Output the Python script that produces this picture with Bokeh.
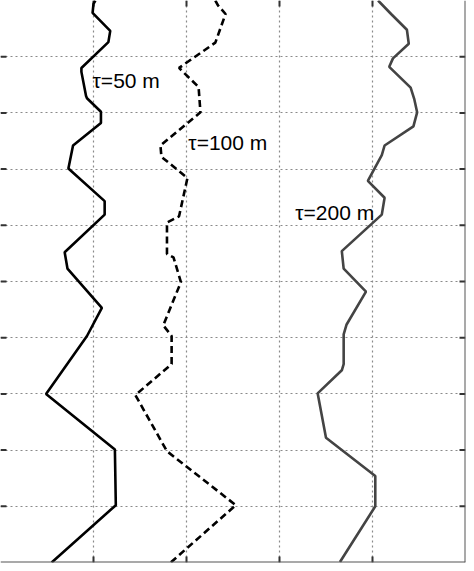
import math
from bokeh.plotting import figure
from bokeh.models import Range1d, FixedTicker, Span
from bokeh.core.properties import value
from bokeh.embed import file_html
from bokeh.resources import INLINE

# --- data (arbitrary x units, depth units increasing downward) ---
x_ticks = [1, 2, 3, 4]
depth_ticks = [1, 2, 3, 4, 5, 6, 7, 8, 9]

tau50_x = [1.02, 1.00, 0.99, 1.18, 1.16, 0.87, 0.87, 0.92, 0.93, 1.08, 1.08, 0.78, 0.73,
           1.12, 1.12, 0.69, 0.72, 1.09, 0.93, 0.49, 1.23, 1.24, 0.55]
tau50_d = [0.00, 0.06, 0.22, 0.54, 0.74, 1.20, 1.27, 1.70, 1.74, 1.98, 2.18, 2.58, 2.99,
           3.57, 3.81, 4.48, 4.77, 5.47, 5.97, 7.00, 7.99, 8.98, 10.0]

tau100_x = [2.31, 2.34, 2.42, 2.31, 1.92, 2.13, 2.15, 1.72, 1.73, 2.01, 1.92, 1.79, 1.79,
            1.86, 1.94, 1.75, 1.84, 1.84, 1.45, 1.79, 2.53, 1.83]
tau100_d = [0.00, 0.09, 0.24, 0.75, 1.20, 1.54, 1.99, 2.58, 2.78, 3.16, 3.84, 3.95, 4.51,
            4.57, 5.01, 5.78, 5.97, 6.47, 7.02, 8.02, 8.98, 10.0]

tau200_x = [4.06, 4.20, 4.37, 4.39, 4.22, 4.18, 4.41, 4.45, 4.48, 4.44, 4.13, 4.10, 3.95,
            4.13, 4.10, 3.67, 3.69, 3.93, 3.72, 3.69, 3.69, 3.67, 3.41, 3.50, 4.03, 4.03, 3.65]
tau200_d = [0.00, 0.24, 0.52, 0.77, 1.03, 1.18, 1.55, 1.76, 1.99, 2.24, 2.58, 2.75, 3.21,
            3.51, 3.81, 4.46, 4.77, 5.18, 5.77, 5.94, 6.47, 6.58, 6.99, 7.78, 8.46, 9.00, 9.99]

label_text = ["\u03c4=50 m", "\u03c4=100 m", "\u03c4=200 m"]
label_x = [0.99, 2.02, 3.17]
label_d = [1.43, 2.52, 3.78]

X0, X1 = 0.0, 5.0
D_BOTTOM, D_TOP = 10.0, 0.0

p = figure(frame_width=465, frame_height=562, output_backend="svg", toolbar_location=None,
           x_range=Range1d(X0, X1), y_range=Range1d(D_BOTTOM, D_TOP),
           min_border_left=0, min_border_right=1, min_border_top=0, min_border_bottom=1,
           background_fill_color="white", border_fill_color="white")
p.outline_line_color = None
p.axis.visible = False

p.xgrid.ticker = FixedTicker(ticks=x_ticks)
p.ygrid.ticker = FixedTicker(ticks=depth_ticks)
for g in (p.xgrid, p.ygrid):
    g.grid_line_color = "#8a8a8a"
    g.grid_line_dash = "2 3"
    g.grid_line_width = 1.2

# frame lines on the right and bottom
p.add_layout(Span(location=X1, dimension="height", line_color="#555555", line_width=2))
p.add_layout(Span(location=D_BOTTOM, dimension="width", line_color="#555555", line_width=2))

# inward tick marks
tick_kw = dict(length=6, length_units="screen", line_color="#333333", line_width=2)
p.ray(x=[X0] * len(depth_ticks), y=depth_ticks, angle=0, **tick_kw)
p.ray(x=[X1] * len(depth_ticks), y=depth_ticks, angle=math.pi, **tick_kw)
p.ray(x=x_ticks, y=[D_BOTTOM] * len(x_ticks), angle=math.pi / 2, **tick_kw)
p.ray(x=x_ticks, y=[D_TOP] * len(x_ticks), angle=-math.pi / 2, **tick_kw)

p.line(tau50_x, tau50_d, line_color="#000000", line_width=2.6)
p.line(tau100_x, tau100_d, line_color="#000000", line_width=2.6, line_dash="7 4")
p.line(tau200_x, tau200_d, line_color="#444444", line_width=2.6)

p.text(label_x, label_d, text=label_text, text_font=value("Liberation Sans"),
       text_font_size="21px", text_baseline="alphabetic", text_align="left",
       text_color="#000000")

open("out.html", "w").write(file_html(p, INLINE))
